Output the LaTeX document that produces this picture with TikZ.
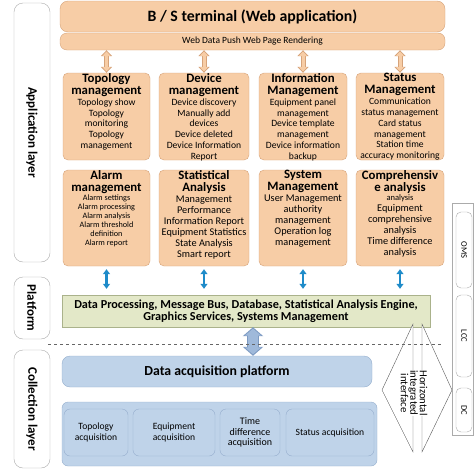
\documentclass[tikz,border=0pt]{standalone}
\usepackage{fontspec}
\setmainfont{Carlito}
\usepackage{tikz}
\usetikzlibrary{arrows.meta}

\definecolor{peach}{HTML}{F7CDA6}
\definecolor{peachline}{HTML}{D6A37A}
\definecolor{platfill}{HTML}{E3E8C8}
\definecolor{platline}{HTML}{AAB28B}
\definecolor{collfill}{HTML}{BFD3E9}
\definecolor{collline}{HTML}{95AECD}
\definecolor{busblue}{HTML}{1E8BC9}
\definecolor{linkfill}{HTML}{9FB9DA}
\definecolor{linkline}{HTML}{7D9AC2}
\definecolor{layerline}{HTML}{ABABAB}

\newcommand{\celltext}[2]{\begin{minipage}[t][#1][t]{86pt}\centering #2\end{minipage}}
\newcommand{\boxtitle}{\fontsize{12.8}{12}\selectfont\bfseries}
\newcommand{\boxbody}{\fontsize{9.6}{10.8}\selectfont}
\newcommand{\boxbodyb}{\fontsize{10.3}{11}\selectfont}
\newcommand{\boxsmall}{\fontsize{8.2}{9}\selectfont}

\begin{document}
\begin{tikzpicture}[
        x=1pt, y=-1pt,
        app-node/.style={draw=peachline, fill=peach, rounded corners=5pt, inner xsep=0pt, inner ysep=0.5pt},
        plat-node/.style={draw=platline, fill=platfill, inner sep=0pt, align=center},
        coll-node/.style={draw=collline, fill=collfill, rounded corners=6pt, inner sep=0pt, align=center},
        layer-node/.style={draw=layerline, fill=white, rounded corners=9pt, rotate=-90, inner sep=0pt,
            minimum height=36pt, font=\fontsize{13}{15}\selectfont\bfseries},
        side-node/.style={draw=layerline, fill=white, rounded corners=5pt, rotate=-90, inner sep=0pt,
            minimum height=16pt, font=\fontsize{8.5}{9}\selectfont},
        web-arrow/.style={draw=peachline, line width=5pt, {Triangle[width=11pt,length=6pt]}-{Triangle[width=11pt,length=6pt]},
            postaction={draw=peach, line width=3pt, shorten <=1.3pt, shorten >=1.3pt,
            {Triangle[width=8pt,length=4.5pt]}-{Triangle[width=8pt,length=4.5pt]}}},
        bus-arrow/.style={draw=busblue, line width=2.2pt, shorten <=3pt, shorten >=6pt,
            {Triangle[width=7pt,length=5pt]}-{Triangle[width=7pt,length=5pt]}},
        link-arrow/.style={draw=linkline, line width=12pt, {Triangle[width=20pt,length=9pt]}-{Triangle[width=20pt,length=9pt]},
            postaction={draw=linkfill, line width=9.5pt, shorten <=1.5pt, shorten >=1.5pt,
            {Triangle[width=16pt,length=7pt]}-{Triangle[width=16pt,length=7pt]}}}
    ]
        \useasboundingbox (0, 0) rectangle (474, 471);

        \node[layer-node, minimum width=259pt] (applayer) at (32, 132.5) {Application layer};
        \node[layer-node, minimum width=62pt]  (platlayer) at (32, 308) {Platform};
        \node[layer-node, minimum width=118pt] (colllayer) at (32, 409) {Collection layer};

        \node[app-node, rounded corners=8pt, minimum width=385pt, minimum height=31pt,
            font=\fontsize{15.8}{17}\selectfont\bfseries] (term) at (252.5, 16.5) {B / S terminal (Web application)};
        \node[app-node, rounded corners=7pt, minimum width=385pt, minimum height=17pt,
            inner ysep=0pt, font=\fontsize{9.5}{10}\selectfont] (web) at (252.5, 41.5) {Web Data Push Web Page Rendering};

        \node[app-node, minimum width=87pt] (topo) at (106.5, 116.5) {\celltext{86pt}{{\boxtitle Topology\\management\par}
            {\boxbody Topology show\\Topology\\monitoring\\Topology\\management\par}}};
        \node[app-node, minimum width=90pt] (device) at (204, 116.5) {\celltext{86pt}{{\boxtitle Device\\management\par}
            {\boxbody Device discovery\\Manually add\\devices\\Device deleted\\Device Information\\Report\par}}};
        \node[app-node, minimum width=88pt] (info) at (303, 116.5) {\celltext{86pt}{{\boxtitle Information\\Management\par}
            {\boxbody Equipment panel\\management\\Device template\\management\\Device information\\backup\par}}};
        \node[app-node, minimum width=88pt] (status) at (400, 116.5) {\celltext{86pt}{{\boxtitle Status\\Management\par}
            {\boxbody Communication\\status management\\Card status\\management\\Station time\\accuracy monitoring\par}}};

        \node[app-node, minimum width=87pt] (alarm) at (106.5, 218) {\celltext{95pt}{{\boxtitle Alarm\\management\par}
            {\boxsmall Alarm settings\\Alarm processing\\Alarm analysis\\Alarm threshold\\definition\\Alarm report\par}}};
        \node[app-node, minimum width=90pt] (stat) at (204, 218) {\celltext{95pt}{{\boxtitle Statistical\\Analysis\par}
            {\boxbodyb Management\\Performance\\Information Report\\Equipment Statistics\\State Analysis\\Smart report\par}}};
        \node[app-node, minimum width=88pt] (system) at (303, 218) {\celltext{95pt}{{\boxtitle System\\Management\par}
            {\boxbodyb User Management\\authority\\management\\Operation log\\management\par}}};
        \node[app-node, minimum width=88pt] (compre) at (400, 218) {\celltext{95pt}{{\boxtitle Comprehensiv\\e analysis\par}
            \vspace{0.5pt}{\fontsize{8.5}{9}\selectfont analysis\par}
            {\boxbodyb Equipment\\comprehensive\\analysis\\Time difference\\analysis\par}}};

        \draw[web-arrow] (web.south -| topo.north) -- (topo.north);
        \draw[web-arrow] (web.south -| device.north) -- (device.north);
        \draw[web-arrow] (web.south -| info.north) -- (info.north);
        \draw[web-arrow] (web.south -| status.north) -- (status.north);

        \node[plat-node, minimum width=368pt, minimum height=32pt,
            font=\fontsize{12.2}{12.5}\selectfont\bfseries] (plat) at (246, 311)
            {Data Processing, Message Bus, Database, Statistical Analysis Engine,\\Graphics Services, Systems Management};

        \draw[bus-arrow] (alarm.south) -- (alarm.south |- plat.north);
        \draw[bus-arrow] (stat.south) -- (stat.south |- plat.north);
        \draw[bus-arrow] (system.south) -- (system.south |- plat.north);
        \draw[bus-arrow] (compre.south) -- (compre.south |- plat.north);

        \node[coll-node, rounded corners=8pt, minimum width=310pt, minimum height=31pt,
            font=\fontsize{13.8}{15}\selectfont\bfseries] (acq) at (217, 371.5) {Data acquisition platform};
        \node[coll-node, minimum width=315pt, minimum height=64pt] (coll) at (219.5, 434) {};

        \node[coll-node, minimum width=64pt, minimum height=47pt, font=\fontsize{9.6}{11}\selectfont] (topoacq) at (96, 432.5) {Topology\\acquisition};
        \node[coll-node, minimum width=82pt, minimum height=47pt, font=\fontsize{9.6}{11}\selectfont] (equipacq) at (174, 432.5) {Equipment\\acquisition};
        \node[coll-node, minimum width=60pt, minimum height=47pt, font=\fontsize{10}{10.5}\selectfont] (timeacq) at (250, 432.5) {Time\\difference\\acquisition};
        \node[coll-node, minimum width=88pt, minimum height=47pt, font=\fontsize{9.6}{11}\selectfont] (statusacq) at (330, 432.5) {Status acquisition};

        \draw[link-arrow] ([xshift=7pt]plat.south) -- ([xshift=7pt]plat.south |- acq.north);

        \draw[draw=gray!70!black, fill=white] (413, 324) -- (382, 390) -- (413, 452) -- cycle;
        \draw[draw=gray!70!black, fill=white] (422, 324) -- (452, 390) -- (422, 452) -- cycle;
        \draw[dashed, draw=gray!80!black] (48, 344) -- (442, 344);
        \node[fill=white, inner sep=0.5pt, rotate=-90, align=center, font=\fontsize{10.8}{9.5}\selectfont] (horiz) at (414, 393)
            {Horizontal\\integrated\\interface};

        \draw[draw=layerline, fill=white] (452, 203) rectangle (473.5, 435);
        \node[side-node, minimum width=76pt] (oms) at (464, 250) {OMS};
        \node[side-node, minimum width=82pt] (lcc) at (464, 336) {LCC};
        \node[side-node, minimum width=44pt] (dc)  at (464, 410) {DC};
    \end{tikzpicture}
\end{document}
